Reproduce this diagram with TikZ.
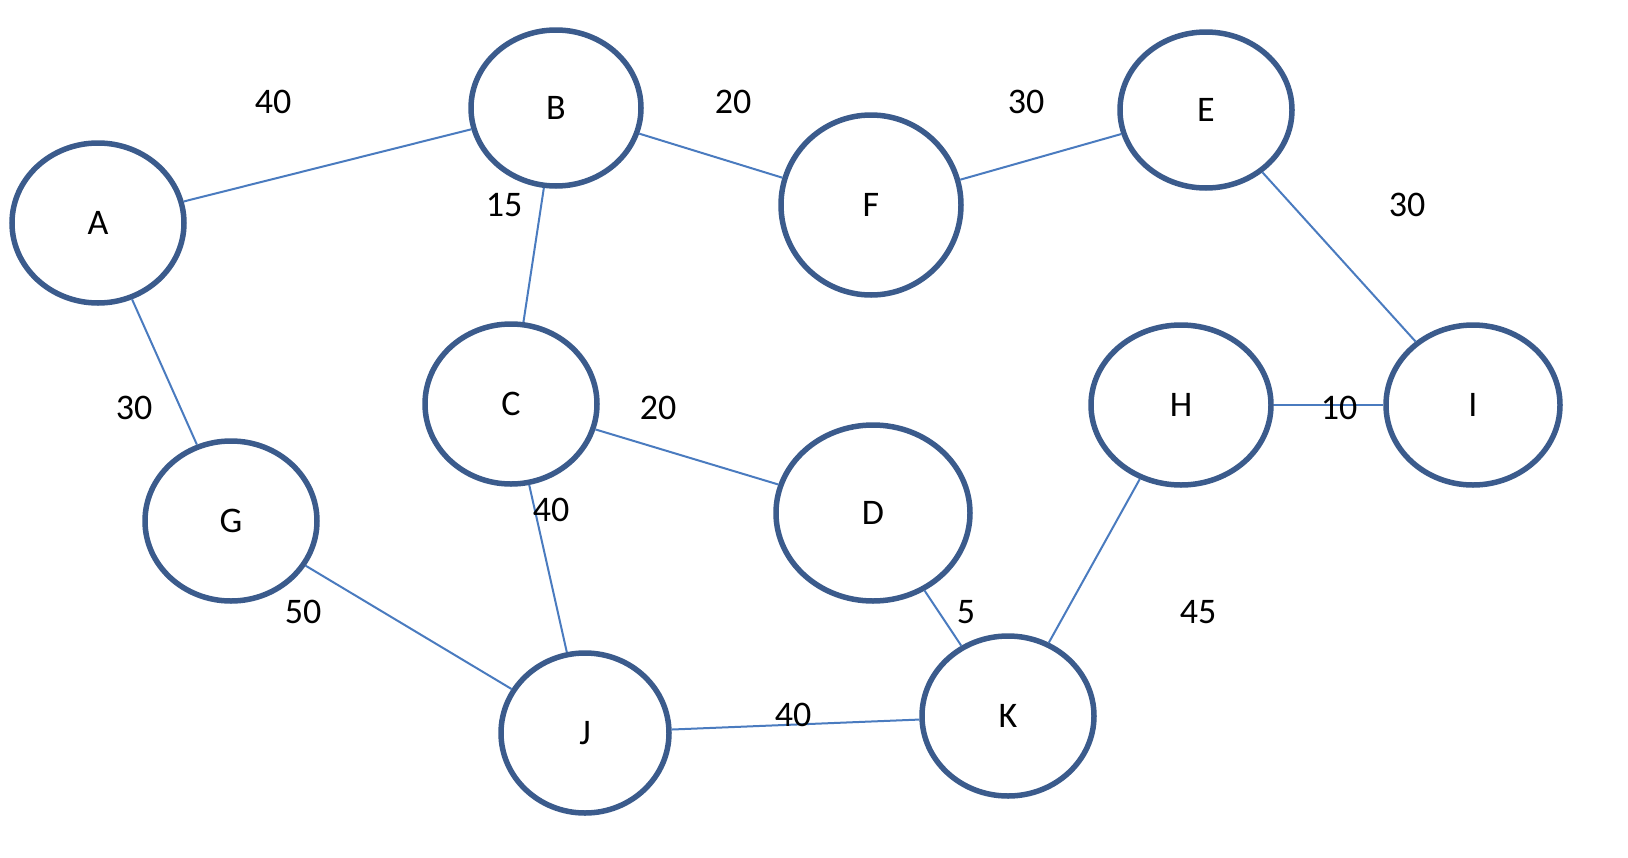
\documentclass[tikz,border=0pt]{standalone}
\usepackage{fontspec}
\setmainfont{Carlito}
\usetikzlibrary{shapes.geometric}
\definecolor{nodeb}{HTML}{3B5B8C}
\definecolor{edgeb}{HTML}{4A7BBF}
\begin{document}
\begin{tikzpicture}[x=1pt,y=-1pt,
  vert/.style={ellipse,draw=nodeb,line width=5.5pt,inner sep=0pt,font=\fontsize{36}{40}\selectfont},
  edge/.style={draw=edgeb,line width=2pt},
  wt/.style={font=\fontsize{36}{40}\selectfont}]
\useasboundingbox (0,0) rectangle (1628,857);
\node[vert,minimum width=172pt,minimum height=160pt] (A) at (98,223) {A};
\node[vert,minimum width=170pt,minimum height=156pt] (B) at (556,108) {B};
\node[vert,minimum width=180pt,minimum height=180pt] (F) at (871,205) {F};
\node[vert,minimum width=172pt,minimum height=156pt] (E) at (1206,110) {E};
\node[vert,minimum width=172pt,minimum height=160pt] (C) at (511,404) {C};
\node[vert,minimum width=172pt,minimum height=160pt] (G) at (231,521) {G};
\node[vert,minimum width=194pt,minimum height=176pt] (D) at (873,513) {D};
\node[vert,minimum width=180pt,minimum height=160pt] (H) at (1181,405) {H};
\node[vert,minimum width=174pt,minimum height=160pt] (I) at (1473,405) {I};
\node[vert,minimum width=168pt,minimum height=160pt] (J) at (585,733) {J};
\node[vert,minimum width=172pt,minimum height=160pt] (K) at (1008,716) {K};
\draw[edge] (A) -- (B);
\draw[edge] (B) -- (F);
\draw[edge] (F) -- (E);
\draw[edge] (E) -- (I);
\draw[edge] (B) -- (C);
\draw[edge] (A) -- (G);
\draw[edge] (C) -- (D);
\draw[edge] (C) -- (J);
\draw[edge] (G) -- (J);
\draw[edge] (J) -- (K);
\draw[edge] (D) -- (K);
\draw[edge] (H) -- (K);
\draw[edge] (H) -- (I);
\node[wt] (w1) at (273,102) {40};
\node[wt] (w2) at (733,102) {20};
\node[wt] (w3) at (1026,102) {30};
\node[wt] (w4) at (504,205) {15};
\node[wt] (w5) at (1407,205) {30};
\node[wt] (w6) at (134,408) {30};
\node[wt] (w7) at (658,408) {20};
\node[wt] (w8) at (1339,408) {10};
\node[wt] (w9) at (551,510) {40};
\node[wt] (w10) at (303,612) {50};
\node[wt] (w11) at (966,612) {5};
\node[wt] (w12) at (1198,612) {45};
\node[wt] (w13) at (793,715) {40};
\end{tikzpicture}
\end{document}
